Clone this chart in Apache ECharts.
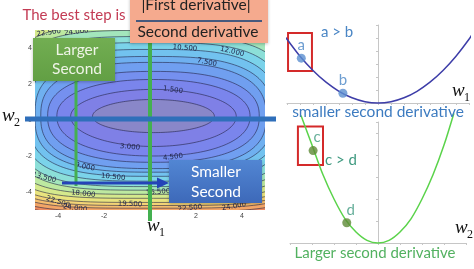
<!DOCTYPE html>
<html><head><meta charset="utf-8">
<script src="https://cdn.jsdelivr.net/npm/echarts@6/dist/echarts.min.js"></script>
<style>html,body{margin:0;padding:0;background:#fff}#c{width:474px;height:269px}</style>
</head><body><div id="c"></div>
<script>
// ---------- data ----------
// contour plot (left): each level is a rounded (super-)ellipse around a centre
const contourLevels   = [1.5, 3, 4.5, 6, 7.5, 9, 10.5, 12, 13.5, 15, 16.5, 18, 19.5, 21, 22.5, 24, 25.5, 27];
const contourSemiW1   = [2.65, 3.6, 4.2, 4.6, 4.9, 5.15, 5.4, 5.65, 5.9, 6.15, 6.4, 6.65, 6.9, 7.15, 7.4, 7.65, 7.9, 8.15];
const contourSemiUp   = [0.94, 1.5, 2.05, 2.5, 3.0, 3.33, 3.72, 4.1, 4.44, 4.78, 5.1, 5.4, 5.67, 5.94, 6.2, 6.5, 6.8, 7.0];
const contourSemiDown = [0.9, 1.67, 2.2, 2.55, 2.9, 3.1, 3.33, 3.6, 3.9, 4.1, 4.33, 4.55, 4.78, 4.95, 5.1, 5.3, 5.45, 5.6];
const contourRoundness = [2, 2, 2.2, 2.4, 2.6, 2.8, 3, 3.2, 3.4, 3.6, 3.8, 4, 4, 4, 4, 4, 4, 4];
const contourCenter   = [0.15, 0.2];

const labelW1    = [1.0, -0.87, 1.0, 2.48, -2.83, 1.52, -1.6, 3.57, -4.6, 0.35, -2.9, -0.87, -4.0, -3.26, 1.74, 3.65, -4.4, -3.2];
const labelW2    = [1.67, -1.5, -2.06, 3.2, -2.6, 4.0, -3.17, 3.8, -3.2, -4.0, -4.1, -4.67, -4.55, -4.9, -4.9, -4.8, 4.85, 4.9];
const labelText  = ['1.500','3.000','4.500','7.500','9.000','10.500','10.500','12.000','13.500','16.500','18.000','19.500','22.500','24.000','22.500','24.000','22.500','24.000'];
const labelAngle = [-8, -5, 6, -12, -12, -5, -6, -14, -15, 4, -6, -2, -18, -8, 6, 10, 8, 6];

// top-right parabola (smaller second derivative)
const topCurveX = [-7.7, -7, -6, -5, -4, -3, -2, -1, 0, 1, 2, 3, 4, 5, 6, 7, 7.3];
const topCurveY = [5.8, 4.9, 3.6, 2.5, 1.6, 0.9, 0.4, 0.1, 0, 0.1, 0.4, 0.9, 1.6, 2.5, 3.6, 4.9, 5.4];
const topPointX = [-5.9, -2.7];
const topPointY = [3.45, 0.75];
const topPointName = ['a', 'b'];
const topBox = [-6.92, 5.38, -5.08, 2.46];

// bottom-right parabola (larger second derivative)
const botCurveX = [-3.5, -3, -2.5, -2, -1.5, -1, -0.5, 0, 0.5, 1, 1.5, 2, 2.5, 3, 3.45];
const botCurveY = [5.8, 4.45, 3.1, 2.0, 1.1, 0.5, 0.12, 0, 0.12, 0.5, 1.1, 2.0, 3.1, 4.45, 5.9];
const botPointX = [-2.95, -1.42];
const botPointY = [4.2, 0.92];
const botPointName = ['c', 'd'];
const botBox = [-3.64, 5.3, -2.5, 3.55];

// ---------- styles ----------
const bandColors = ['#8987c9','#7f80e6','#7a85ec','#7590ef','#709ff0','#6fb0f0','#72c2ef','#7bd3ea',
  '#8cdfd8','#a3e6bc','#bde9a0','#d5e98c','#e9e47e','#f3d476','#f5be6e','#f3a566','#ee8c60','#e8735b','#e05c57'];
const LATO = 'Lato, "Open Sans", sans-serif';
const SERIF = '"Liberation Serif", "DejaVu Serif", serif';

const chart = echarts.init(document.getElementById('c'), null, {renderer: 'canvas'});

const contourOrder = contourLevels.map((_, i) => i).reverse();

function renderContour(params, api) {
  const i = api.value(0);
  const c = api.coord(contourCenter);
  const sz = api.size([contourSemiW1[i], contourSemiUp[i]]);
  const szd = api.size([contourSemiW1[i], contourSemiDown[i]]);
  const rx = sz[0], ru = sz[1], rd = szd[1];
  const e = 2 / contourRoundness[i];
  const pts = [];
  const N = 160;
  for (let k = 0; k < N; k++) {
    const t = k / N * Math.PI * 2;
    const co = Math.cos(t), s = Math.sin(t);
    const px = Math.sign(co) * Math.pow(Math.abs(co), e);
    const py = Math.sign(s) * Math.pow(Math.abs(s), e);
    pts.push([c[0] + rx * px, c[1] - (py > 0 ? ru : rd) * py]);
  }
  return {
    type: 'polygon',
    shape: {points: pts},
    style: {fill: bandColors[i], stroke: 'rgba(35,35,70,0.85)', lineWidth: 0.7}
  };
}

function renderLabel(params, api) {
  const i = api.value(0);
  const p = api.coord([labelW1[i], labelW2[i]]);
  return {
    type: 'text', x: p[0], y: p[1], rotation: labelAngle[i] * Math.PI / 180,
    style: {text: labelText[i], fill: '#22264a', fontSize: 7, fontFamily: 'DejaVu Sans',
      align: 'center', verticalAlign: 'middle', textAlign: 'center', textVerticalAlign: 'middle'}
  };
}

const axisCommonHidden = {
  axisLabel: {show: false}, splitLine: {show: false},
  axisLine: {lineStyle: {color: '#c6c6c6', width: 1}},
  axisTick: {show: true, length: 2, lineStyle: {color: '#c6c6c6'}}
};

function T(x, y, text, o) {
  return {type: 'text', x: x, y: y, z: 102, style: Object.assign({text: text,
    align: 'center', verticalAlign: 'middle', textAlign: 'center', textVerticalAlign: 'middle'}, o)};
}
function W(x, y, sub) {
  return [
    {type: 'text', x: x, y: y, z: 102, style: {text: 'w', fontSize: 19, fontStyle: 'italic', fontFamily: SERIF, fill: '#111',
      align: 'left', verticalAlign: 'alphabetic', textAlign: 'left', textVerticalAlign: 'bottom', textBaseline: 'alphabetic'}},
    {type: 'text', x: x + 12, y: y + 4, z: 102, style: {text: sub, fontSize: 12, fontFamily: SERIF, fill: '#111',
      align: 'left', verticalAlign: 'alphabetic', textAlign: 'left', textVerticalAlign: 'bottom', textBaseline: 'alphabetic'}}
  ];
}

const graphics = [
  {type: 'line', z: 100, shape: {x1: 76, y1: 80, x2: 76, y2: 186}, style: {stroke: '#44b050', lineWidth: 3}},
  {type: 'line', z: 100, shape: {x1: 150, y1: 40, x2: 150, y2: 221}, style: {stroke: '#44b050', lineWidth: 4}},
  {type: 'line', z: 101, shape: {x1: 25, y1: 119, x2: 276, y2: 119}, style: {stroke: '#2f6fba', lineWidth: 5}},
  {type: 'line', z: 101, shape: {x1: 62, y1: 183, x2: 160, y2: 183}, style: {stroke: '#2443b8', lineWidth: 3}},
  {type: 'polygon', z: 101, shape: {points: [[157, 177.5], [169, 183], [157, 188.5]]}, style: {fill: '#2443b8'}},
  {type: 'rect', z: 101, shape: {x: 130, y: -3, width: 138, height: 46},
    style: {fill: '#f5aa8e', shadowBlur: 3, shadowColor: 'rgba(0,0,0,0.25)', shadowOffsetY: 1}},
  {type: 'line', z: 102, shape: {x1: 136, y1: 21, x2: 262, y2: 21}, style: {stroke: '#47597d', lineWidth: 2}},
  T(196, 5, '|First derivative|', {fontSize: 15.5, fontFamily: LATO, fill: '#222'}),
  T(198, 32, 'Second derivative', {fontSize: 15.5, fontFamily: LATO, fill: '#222'}),
  {type: 'rect', z: 101, shape: {x: 33, y: 38, width: 82, height: 43},
    style: {fill: new echarts.graphic.LinearGradient(0, 0, 0, 1, [{offset: 0, color: '#72ae52'}, {offset: 1, color: '#629f44'}]),
      shadowBlur: 3, shadowColor: 'rgba(0,0,0,0.25)', shadowOffsetY: 1}},
  T(77, 50, 'Larger', {fontSize: 15.5, fontFamily: LATO, fill: '#eef4e6'}),
  T(77, 69, 'Second', {fontSize: 15.5, fontFamily: LATO, fill: '#eef4e6'}),
  {type: 'rect', z: 101, shape: {x: 169, y: 160, width: 93, height: 43},
    style: {fill: new echarts.graphic.LinearGradient(0, 0, 0, 1, [{offset: 0, color: '#5286d3'}, {offset: 1, color: '#3d69b9'}]),
      shadowBlur: 3, shadowColor: 'rgba(0,0,0,0.25)', shadowOffsetY: 1}},
  T(216, 172, 'Smaller', {fontSize: 15.5, fontFamily: LATO, fill: '#ffffff'}),
  T(216, 192, 'Second', {fontSize: 15.5, fontFamily: LATO, fill: '#ffffff'}),
  T(74, 15, 'The best step is', {fontSize: 15, fontFamily: LATO, fill: '#c33b54'}),
  T(337, 32, 'a > b', {fontSize: 15, fontFamily: LATO, fill: '#4a86c5'}),
  T(378, 112, 'smaller second derivative', {fontSize: 15.5, fontFamily: LATO, fill: '#3c7bc0'}),
  T(341, 160, 'c > d', {fontSize: 15, fontFamily: LATO, fill: '#3f9a80'}),
  T(375, 253, 'Larger second derivative', {fontSize: 15, fontFamily: LATO, fill: '#52b160'})
].concat(W(2, 125, '2'), W(147, 235, '1'), W(452, 100, '1'), W(455, 237, '2'));

const option = {
  animation: false,
  backgroundColor: '#ffffff',
  grid: [
    {left: 35, top: 30, width: 230, height: 180, show: true, backgroundColor: bandColors[bandColors.length - 1], borderWidth: 0},
    {left: 287, top: 25, width: 182, height: 78},
    {left: 290, top: 122, width: 176, height: 121}
  ],
  xAxis: [
    {gridIndex: 0, type: 'value', min: -5, max: 5, splitLine: {show: false}, axisLine: {show: false},
      axisTick: {show: true, length: 2, lineStyle: {color: '#666'}},
      axisLabel: {fontSize: 7, color: '#444', margin: 3, showMinLabel: false, showMaxLabel: false}},
    Object.assign({gridIndex: 1, type: 'value', min: -7, max: 7, interval: 1}, axisCommonHidden),
    Object.assign({gridIndex: 2, type: 'value', min: -4, max: 4, interval: 1}, axisCommonHidden)
  ],
  yAxis: [
    {gridIndex: 0, type: 'value', min: -5, max: 5, splitLine: {show: false}, axisLine: {show: false},
      axisTick: {show: true, length: 2, lineStyle: {color: '#666'}},
      axisLabel: {fontSize: 7, color: '#444', margin: 3, showMinLabel: false, showMaxLabel: false}},
    Object.assign({gridIndex: 1, type: 'value', min: 0, max: 6, interval: 1}, axisCommonHidden),
    Object.assign({gridIndex: 2, type: 'value', min: 0, max: 5.5, interval: 1}, axisCommonHidden)
  ],
  series: [
    {type: 'custom', xAxisIndex: 0, yAxisIndex: 0, clip: true, renderItem: renderContour,
      data: contourOrder.map(i => [i]), silent: true},
    {type: 'custom', xAxisIndex: 0, yAxisIndex: 0, clip: true, renderItem: renderLabel,
      data: labelText.map((_, i) => [i]), silent: true, z: 3},
    {type: 'line', xAxisIndex: 1, yAxisIndex: 1, smooth: 0.3, symbol: 'none', clip: false,
      lineStyle: {color: '#3d3da8', width: 1.5}, data: topCurveX.map((x, i) => [x, topCurveY[i]]),
      markArea: {silent: true, itemStyle: {color: 'rgba(0,0,0,0)', borderColor: '#d42a2a', borderWidth: 2},
        data: [[{coord: [topBox[0], topBox[1]]}, {coord: [topBox[2], topBox[3]]}]]}},
    {type: 'scatter', xAxisIndex: 1, yAxisIndex: 1, symbolSize: 9, itemStyle: {color: '#5b8ed0'}, z: 5,
      label: {show: true, position: 'top', distance: 1, fontSize: 15, fontFamily: LATO, color: '#4a86c5',
        formatter: p => p.name},
      data: topPointX.map((x, i) => ({name: topPointName[i], value: [x, topPointY[i]]}))},
    {type: 'line', xAxisIndex: 2, yAxisIndex: 2, smooth: 0.3, symbol: 'none', clip: false,
      lineStyle: {color: '#5ad34a', width: 1.5}, data: botCurveX.map((x, i) => [x, botCurveY[i]]),
      markArea: {silent: true, itemStyle: {color: 'rgba(0,0,0,0)', borderColor: '#d42a2a', borderWidth: 2},
        data: [[{coord: [botBox[0], botBox[1]]}, {coord: [botBox[2], botBox[3]]}]]}},
    {type: 'scatter', xAxisIndex: 2, yAxisIndex: 2, symbolSize: 9, itemStyle: {color: '#5e8a36'}, z: 5,
      label: {show: true, position: 'top', distance: 1, offset: [4, 0], fontSize: 15, fontFamily: LATO, color: '#3f9a80',
        formatter: p => p.name},
      data: botPointX.map((x, i) => ({name: botPointName[i], value: [x, botPointY[i]]}))}
  ],
  graphic: graphics
};
chart.setOption(option);
</script>
</body></html>
